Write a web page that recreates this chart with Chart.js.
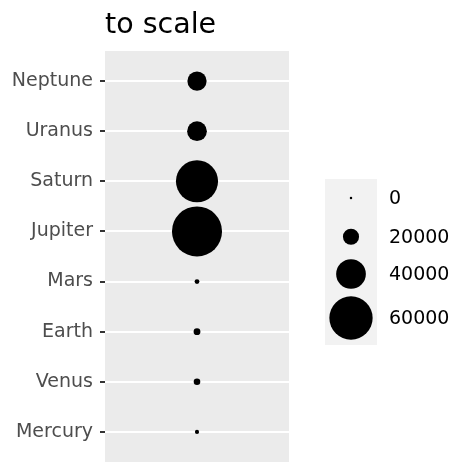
<!DOCTYPE html>
<html>
<head>
<meta charset="utf-8">
<script src="https://cdn.jsdelivr.net/npm/chart.js@4"></script>
<style>
  html, body { margin: 0; padding: 0; background: #fff; overflow: hidden; }
  canvas { display: block; }
</style>
</head>
<body>
<canvas id="planets" width="474" height="474"></canvas>
<script>
const planets = ['Mercury', 'Venus', 'Earth', 'Mars', 'Jupiter', 'Saturn', 'Uranus', 'Neptune'];
const radiusKm = [2440, 6052, 6371, 3390, 69911, 58232, 25362, 24622];
const legendBreaks = [0, 20000, 40000, 60000];

const FONT = 'DejaVu Sans';

// bubble size is linear in the radius (diameter in px)
function dotRadius(v) {
  return 1.25 + 0.00034 * v;
}

const panelBg = {
  id: 'panelBg',
  beforeDraw(chart) {
    const a = chart.chartArea;
    const ctx = chart.ctx;
    ctx.save();
    ctx.fillStyle = '#EBEBEB';
    ctx.fillRect(a.left, a.top, a.right - a.left, a.bottom - a.top);
    ctx.restore();
  },
  afterDraw(chart) {
    const ctx = chart.ctx;
    ctx.save();
    // title
    ctx.fillStyle = '#000';
    ctx.font = '28.5px "' + FONT + '"';
    ctx.textBaseline = 'alphabetic';
    ctx.textAlign = 'left';
    ctx.fillText('to scale', 105, 33);

    // size legend
    ctx.fillStyle = '#F2F2F2';
    ctx.fillRect(325, 179, 52, 166);
    const keyY = [198, 236.7, 274, 318];
    legendBreaks.forEach((b, i) => {
      ctx.fillStyle = '#000';
      ctx.beginPath();
      ctx.arc(351, keyY[i], dotRadius(b), 0, Math.PI * 2);
      ctx.fill();
      ctx.font = '19px "' + FONT + '"';
      ctx.textBaseline = 'middle';
      ctx.fillText(String(b), 389, keyY[i] + 1);
    });
    ctx.restore();
  }
};

new Chart(document.getElementById('planets'), {
  type: 'bubble',
  data: {
    datasets: [{
      data: planets.map((p, i) => ({ x: 0, y: i + 1, r: dotRadius(radiusKm[i]) })),
      backgroundColor: '#000',
      borderWidth: 0,
      hoverBorderWidth: 0
    }]
  },
  options: {
    responsive: false,
    animation: false,
    devicePixelRatio: 1,
    events: [],
    layout: {
      autoPadding: false,
      padding: { top: 51, right: 185, bottom: 12, left: 0 }
    },
    plugins: {
      legend: { display: false },
      tooltip: { enabled: false }
    },
    scales: {
      x: { type: 'linear', min: -1, max: 1, display: false },
      y: {
        type: 'linear',
        min: 0.4,
        max: 8.6,
        afterBuildTicks: s => { s.ticks = planets.map((p, i) => ({ value: i + 1 })); },
        afterFit: s => {
          s.width = 105;
          s.paddingTop = 0;
          s.paddingBottom = 0;
        },
        ticks: {
          callback: v => planets[v - 1],
          color: '#4D4D4D',
          font: { family: FONT, size: 19 },
          padding: 7
        },
        grid: {
          color: '#FFFFFF',
          lineWidth: 2,
          tickColor: '#333333',
          tickLength: 5,
          tickWidth: 2
        },
        border: { display: false }
      }
    }
  },
  plugins: [panelBg]
});
</script>
</body>
</html>
